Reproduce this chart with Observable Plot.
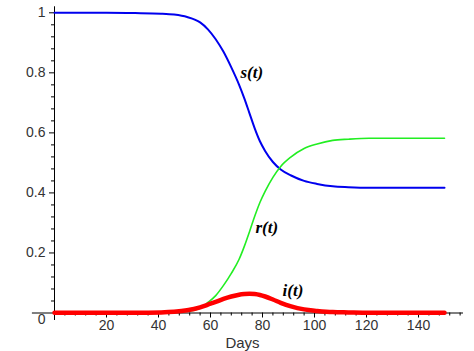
<!DOCTYPE html>
<html><head><meta charset="utf-8">
<script src="https://cdn.jsdelivr.net/npm/d3@7"></script>
<script src="https://cdn.jsdelivr.net/npm/@observablehq/plot@0.6"></script>
<style>body{margin:0;background:#fff}</style>
</head><body><div id="chart"></div>
<script>
const days        = [0, 10, 20, 31, 41, 46, 51, 56, 59, 62, 65, 68, 71, 73, 75, 77, 79, 81, 84, 87, 91, 96, 101, 107, 113, 121, 131, 141, 150];
const susceptible = [1.0, 1.0, 1.0, 0.999, 0.997, 0.994, 0.986, 0.968, 0.945, 0.912, 0.87, 0.818, 0.76, 0.715, 0.665, 0.615, 0.572, 0.54, 0.503, 0.478, 0.458, 0.44, 0.43, 0.422, 0.419, 0.417, 0.417, 0.417, 0.417];
const infected    = [0.001, 0.001, 0.001, 0.001, 0.002, 0.004, 0.009, 0.019, 0.028, 0.037, 0.047, 0.055, 0.061, 0.063, 0.064, 0.063, 0.06, 0.055, 0.045, 0.034, 0.022, 0.012, 0.007, 0.003, 0.002, 0.001, 0.001, 0.001, 0.001];
const recovered   = [0, 0, 0, 0, 0.001, 0.002, 0.006, 0.016, 0.035, 0.058, 0.092, 0.132, 0.179, 0.222, 0.271, 0.322, 0.368, 0.405, 0.452, 0.488, 0.52, 0.548, 0.563, 0.575, 0.579, 0.582, 0.582, 0.582, 0.582];
const xMajorTicks = [20, 40, 60, 80, 100, 120, 140];
const yMajorTicks = [0.2, 0.4, 0.6, 0.8, 1];
const curveNames  = ["s(t)", "r(t)", "i(t)"];
const xLabel = "Days";

const data = days.map((t, k) => ({t, s: susceptible[k], i: infected[k], r: recovered[k]}));
const xMinor = d3.range(4, 157, 4).filter(d => d % 20 !== 0);
const yMinor = d3.range(1, 26).map(k => +(k * 0.04).toFixed(2)).filter(d => Math.abs(d * 5 - Math.round(d * 5)) > 1e-6);

const labelFont = {fontFamily: "Liberation Serif", fontWeight: "bold", fontStyle: "italic", fontSize: 17, textAnchor: "start", fill: "black"};

const chart = Plot.plot({
  width: 474, height: 351,
  marginLeft: 54, marginRight: 11, marginTop: 12.3, marginBottom: 38.5,
  x: {domain: [0, 157.3]},
  y: {domain: [0, 1]},
  style: {fontFamily: "Liberation Sans", fontSize: "14px", background: "white"},
  marks: [
    Plot.ruleY([0], {x1: -8.5, x2: 157.3, stroke: "black"}),
    Plot.ruleX([0], {y1: -0.025, y2: 1.02, stroke: "black"}),
    Plot.axisY({ticks: yMajorTicks, tickSize: 5, tickPadding: 4, fontSize: 14, tickFormat: d => String(d), label: null, fill: "#333", stroke: "black"}),
    Plot.axisY({ticks: yMinor, tickSize: 3, tickFormat: () => "", label: null, stroke: "black"}),
    Plot.axisX({ticks: xMajorTicks, tickSize: 5, tickPadding: 2, fontSize: 14, tickFormat: d => String(d), label: null, fill: "#333", stroke: "black"}),
    Plot.axisX({ticks: xMinor, tickSize: 3, tickFormat: () => "", label: null, stroke: "black"}),
    Plot.text(["0"], {x: 0, y: 0, dx: -9, dy: 7, textAnchor: "end", fontSize: 14, fill: "#333"}),
    Plot.text([xLabel], {x: 72.3, y: 0, dy: 30, fontSize: 15, fill: "#333"}),
    Plot.line(data, {x: "t", y: "s", stroke: "#0000ee", strokeWidth: 2, curve: "monotone-x"}),
    Plot.line(data, {x: "t", y: "r", stroke: "#22ee22", strokeWidth: 1.6, curve: "monotone-x"}),
    Plot.line(data, {x: "t", y: "i", stroke: "#ff0000", strokeWidth: 4.5, curve: "monotone-x"}),
    Plot.text([curveNames[0]], {x: 71.5, y: 0.80, ...labelFont}),
    Plot.text([curveNames[1]], {x: 77.3, y: 0.285, ...labelFont}),
    Plot.text([curveNames[2]], {x: 87.7, y: 0.075, ...labelFont})
  ]
});
document.getElementById("chart").appendChild(chart);
</script>
</body></html>
